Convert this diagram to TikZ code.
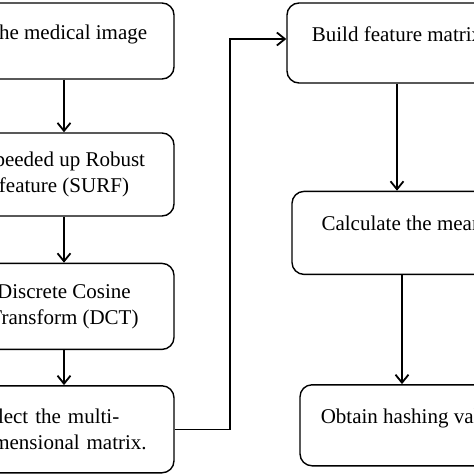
\documentclass[tikz,border=0pt]{standalone}
\usepackage{fontspec}
\setmainfont{Liberation Serif}
\usetikzlibrary{arrows.meta,positioning}

\begin{document}
\begin{tikzpicture}
          [x=1pt,y=-1pt,line width=1.4pt,
           >={Straight Barb[length=8pt,width=13pt,line width=1.8pt]},
           font=\fontsize{21}{26}\selectfont]
          \tikzstyle{stage}=[draw=black,fill=white,rounded corners=12pt,minimum width=220pt,inner sep=0pt,align=center]
          \tikzstyle{oneline}=[text height=15pt,text depth=19pt]

          \useasboundingbox (0,0) rectangle (474,474);
          \clip (0,0) rectangle (474,474);

          % left column
          \node[stage,oneline,minimum height=76pt,minimum width=256pt] (read) at (46,41) {Read the medical image};
          \node[stage,minimum height=83pt] (surf) at (64,174.5) {Speeded up Robust\\feature (SURF)};
          \node[stage,minimum height=86pt] (dct) [below=46pt of surf] {Discrete Cosine\\Transform (DCT)};
          \node[stage,minimum height=87pt,align=left,text width=174pt,inner xsep=23pt] (select) [below=35pt of dct] {Select the multi-\\dimensional matrix.};

          % right column
          \node[stage,oneline,minimum height=80pt] (matrix) at (397,43) {Build feature matrix};
          \node[stage,oneline,minimum height=83pt] (mean) [below=107pt of matrix,xshift=5pt] {Calculate the mean};
          \node[stage,oneline,minimum height=81pt] (hash) [below=109pt of mean,xshift=8pt] {Obtain hashing value};

          \coordinate (turn) at (230,0);

          \draw[->] (surf.north |- read.south) -- (surf.north);
          \draw[->] (surf) -- (dct);
          \draw[->] (dct) -- (select);
          \draw[->] (select.east) -- (select.east -| turn) |- ([yshift=4pt]matrix.west);
          \draw[->] (matrix.south) -- (matrix.south |- mean.north);
          \draw[->] (mean.south) -- (mean.south |- hash.north);
        \end{tikzpicture}
\end{document}
